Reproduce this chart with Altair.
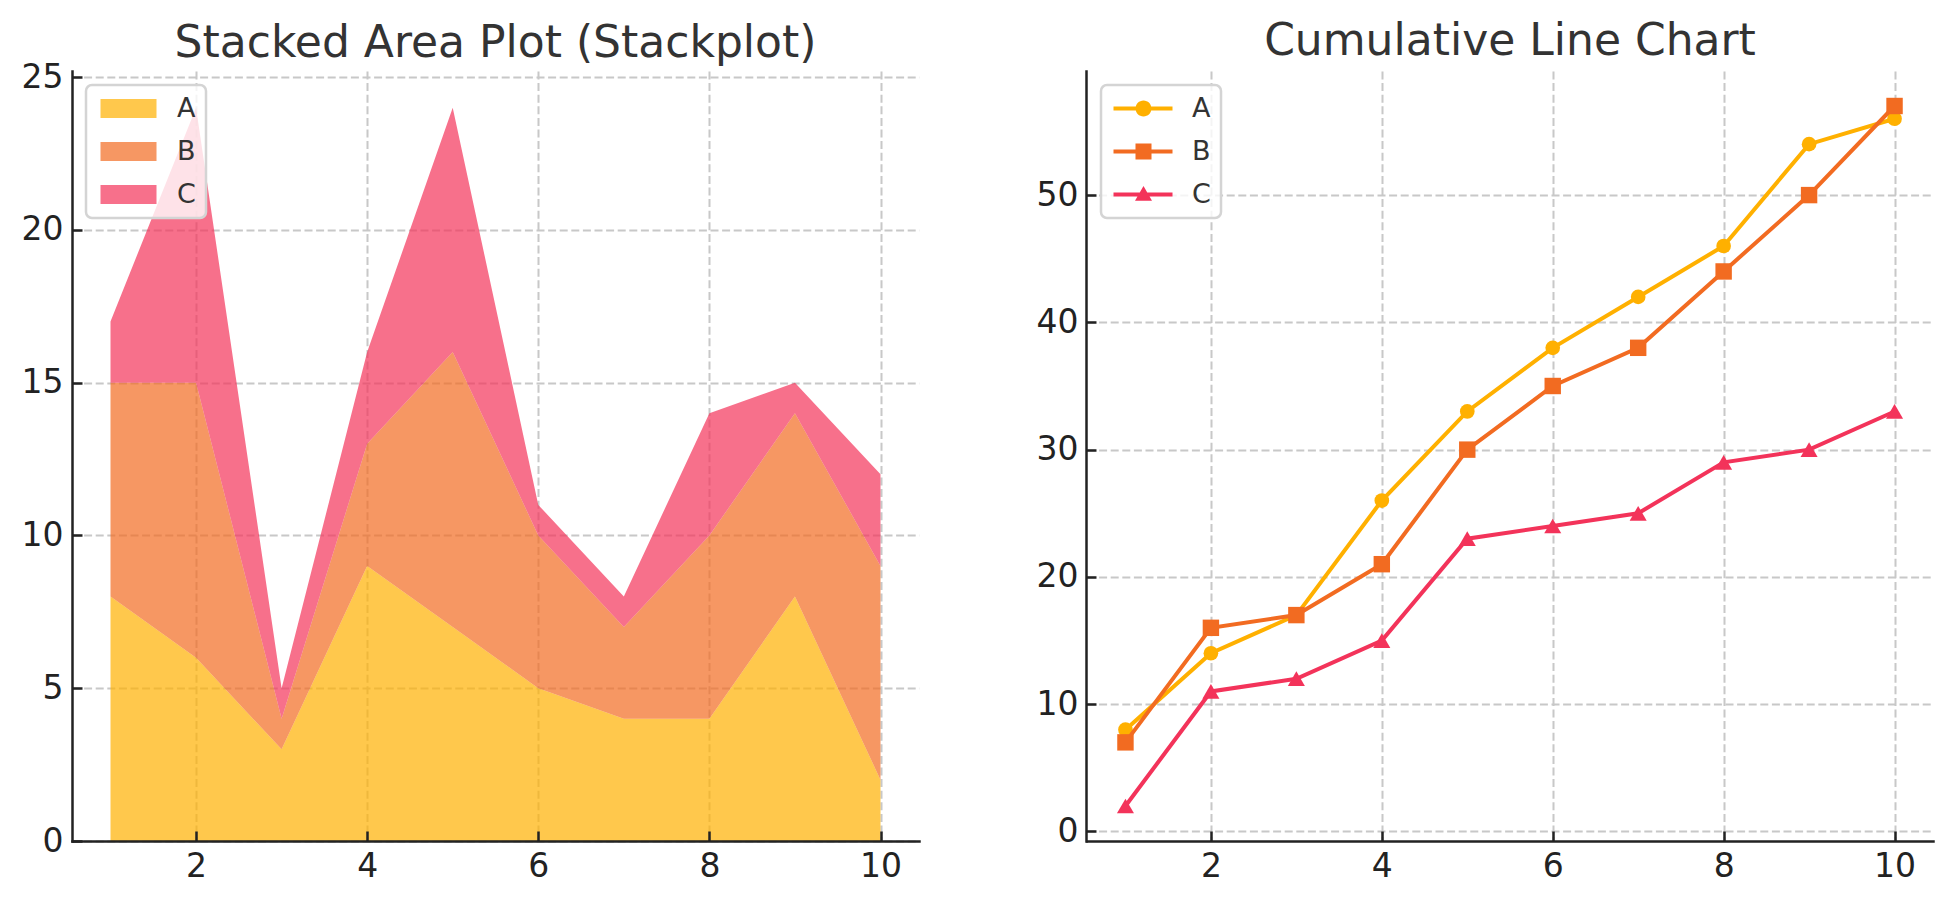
import altair as alt
import pandas as pd

# ---- data -------------------------------------------------------------
x_vals = [1, 2, 3, 4, 5, 6, 7, 8, 9, 10]
series_names = ["A", "B", "C"]
a_vals = [8, 6, 3, 9, 7, 5, 4, 4, 8, 2]
b_vals = [7, 9, 1, 4, 9, 5, 3, 6, 6, 7]
c_vals = [2, 9, 1, 3, 8, 1, 1, 4, 1, 3]

x_ticks = [2, 4, 6, 8, 10]
area_y_ticks = [0, 5, 10, 15, 20, 25]
cum_y_ticks = [0, 10, 20, 30, 40, 50]

titles = ["Stacked Area Plot (Stackplot)", "Cumulative Line Chart"]

# ---- styles -----------------------------------------------------------
colors = ["#FFB000", "#F26B21", "#F3335A"]
marker_shapes = ["circle", "square", "triangle-up"]
marker_sizes = [215, 270, 290]

FONT = "DejaVu Sans"
INK = "#222222"
TEXT = "#333333"
GRID = "#c8c8c8"
W, H = 847, 770

# legend swatch for the stacked areas (symbol box is 20px wide, swatch drawn wider)
AREA_SWATCH = "M-0.9,-0.95H4.7V0.95H-0.9Z"
# legend glyphs for the line chart: a line segment with the series marker on it
LINE_SEG = "M-1.1,-0.2H4.8V0.2H-1.1Z"
LEGEND_GLYPHS = [
    LINE_SEG + "M1.1,0A0.8,0.8 0 1,1 2.7,0A0.8,0.8 0 1,1 1.1,0Z",
    LINE_SEG + "M1.1,-0.8H2.7V0.8H1.1Z",
    LINE_SEG + "M1.9,-0.85L2.75,0.62H1.05Z",
]

rows = []
for name, vals in zip(series_names, [a_vals, b_vals, c_vals]):
    running = 0
    for x, v in zip(x_vals, vals):
        running += v
        rows.append({"x": x, "series": name, "value": v, "cum": running})
df = pd.DataFrame(rows)

color_scale = alt.Scale(domain=series_names, range=colors)
x_scale = alt.Scale(domain=[0.55, 10.45], nice=False, zero=False)
area_y_scale = alt.Scale(domain=[0, 25.2], nice=False, zero=False)
cum_y_scale = alt.Scale(domain=[-0.75, 59.75], nice=False, zero=False)


def main_axis(values, pad):
    return alt.Axis(
        values=values, title=None, ticks=False, domain=False,
        labelFont=FONT, labelFontSize=33, labelColor=INK, labelPadding=pad,
        labelFlush=False, labelOverlap=False, labelBound=False,
        grid=True, gridColor=GRID, gridDash=[8, 3.6], gridWidth=2,
    )


def tick_axis(values, orient, offset):
    # inward-pointing ticks plus the spine, drawn above the marks
    return alt.Axis(
        values=values, title=None, orient=orient, offset=offset,
        labels=False, grid=False, ticks=True, tickSize=10, tickWidth=2.5,
        tickColor=INK, domain=True, domainColor=INK, domainWidth=2.5,
        domainCap="square", zindex=1, minExtent=0,
    )


def legend(symbol_type=None):
    kw = dict(
        title=None, orient="none", legendX=14, legendY=14,
        symbolSize=400, symbolStrokeWidth=0,
        labelFont=FONT, labelFontSize=27, labelColor=TEXT, labelOffset=54,
        rowPadding=15, padding=10, strokeColor="#d4d4d4",
        fillColor="rgba(255,255,255,0.8)", cornerRadius=6,
    )
    if symbol_type:
        kw["symbolType"] = symbol_type
    return alt.Legend(**kw)


def title(text, offset):
    return alt.TitleParams(
        text, font=FONT, fontSize=44, fontWeight="normal", color=TEXT,
        anchor="middle", baseline="alphabetic", offset=offset,
    )


def tick_layer(y_field, y_scale, y_values):
    return alt.Chart(df).mark_point(opacity=0).encode(
        x=alt.X("x:Q", scale=x_scale, axis=tick_axis(x_ticks, "top", -H)),
        y=alt.Y(f"{y_field}:Q", scale=y_scale, axis=tick_axis(y_values, "right", -W)),
    )


# ---- left panel: stacked areas -----------------------------------------
area = alt.Chart(df).mark_area(opacity=0.7, interpolate="linear").encode(
    x=alt.X("x:Q", scale=x_scale, axis=main_axis(x_ticks, 9)),
    y=alt.Y("value:Q", stack="zero", scale=area_y_scale, axis=main_axis(area_y_ticks, 9)),
    color=alt.Color("series:N", scale=color_scale, legend=legend(AREA_SWATCH)),
    order=alt.Order("series:N", sort="ascending"),
)

left = (
    alt.layer(area, tick_layer("value", area_y_scale, area_y_ticks))
    .resolve_axis(x="independent", y="independent")
    .properties(width=W, height=H, title=title(titles[0], -40))
)

# ---- right panel: cumulative lines --------------------------------------
right_layers = []
for i, (name, color, shape, size) in enumerate(
    zip(series_names, colors, marker_shapes, marker_sizes)
):
    base = alt.Chart(df).transform_filter(alt.datum.series == name)
    if i == 0:
        enc = dict(
            x=alt.X("x:Q", scale=x_scale, axis=main_axis(x_ticks, 9)),
            y=alt.Y("cum:Q", scale=cum_y_scale, axis=main_axis(cum_y_ticks, 9)),
        )
    else:
        enc = dict(
            x=alt.X("x:Q", scale=x_scale, axis=None),
            y=alt.Y("cum:Q", scale=cum_y_scale, axis=None),
        )
    right_layers.append(base.mark_line(color=color, strokeWidth=4).encode(**enc))
    right_layers.append(
        base.mark_point(filled=True, opacity=1, color=color, shape=shape, size=size,
                        strokeWidth=0).encode(
            x=alt.X("x:Q", scale=x_scale, axis=None),
            y=alt.Y("cum:Q", scale=cum_y_scale, axis=None),
        )
    )

line_legend = legend()
legend_layer = (
    alt.Chart(df)
    .transform_filter("false")
    .mark_point(filled=True, opacity=1)
    .encode(
        x=alt.X("x:Q", scale=x_scale, axis=None),
        y=alt.Y("cum:Q", scale=cum_y_scale, axis=None),
        color=alt.Color("series:N", scale=color_scale, legend=line_legend),
        shape=alt.Shape("series:N", scale=alt.Scale(domain=series_names, range=LEGEND_GLYPHS),
                        legend=line_legend),
    )
)

right = (
    alt.layer(*right_layers, legend_layer, tick_layer("cum", cum_y_scale, cum_y_ticks))
    .resolve_axis(x="independent", y="independent")
    .properties(width=W - 1, height=H, title=title(titles[1], -28))
)

chart = (
    alt.hconcat(left, right, spacing=168, bounds="flush")
    .resolve_scale(color="independent", shape="independent")
    .resolve_legend(color="independent", shape="independent")
    .properties(padding={"left": 21, "top": 20, "right": 19, "bottom": 10})
    .configure_view(stroke=None)
    .configure_legend(strokeWidth=2.5)
)

chart.save("out.html", embed_options={"renderer": "svg", "actions": False})
